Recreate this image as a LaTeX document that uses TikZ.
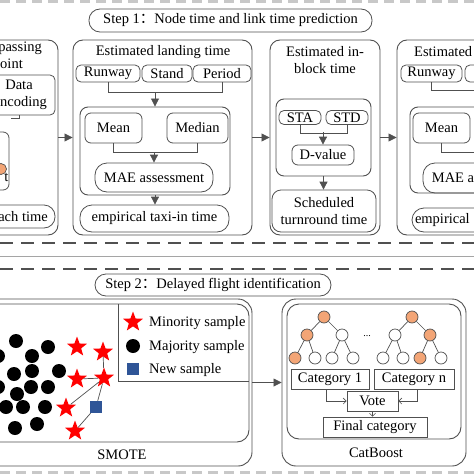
\documentclass[tikz,border=0pt]{standalone}
\usepackage{fontspec}
\setmainfont{Liberation Serif}
\newfontfamily\cjk{Noto Sans CJK SC}
\usepackage{xcolor}
\usepackage{tikz}
\usetikzlibrary{positioning}
\usetikzlibrary{shapes.geometric}
\usetikzlibrary{arrows.meta}
\definecolor{linegray}{RGB}{80,80,80}
\definecolor{dashgray}{RGB}{200,200,200}
\definecolor{rulegray}{RGB}{165,165,165}
\definecolor{nodeorange}{RGB}{243,165,118}
\definecolor{newblue}{RGB}{47,85,151}

\begin{document}
\begin{tikzpicture}[x=1pt,y=-1pt,font=\fontsize{14.5}{17.5}\selectfont]
			\tikzstyle{BoxStyle}   = [draw=linegray, line width=0.9pt, rounded corners=10pt, inner sep=0pt]
			\tikzstyle{ItemStyle}  = [draw=linegray, line width=0.8pt, rounded corners=5pt, inner sep=0pt, align=center]
			\tikzstyle{PillStyle}  = [draw=linegray, line width=0.8pt, rounded corners=11pt, inner sep=0pt, align=center]
			\tikzstyle{CatStyle}   = [draw=linegray, line width=0.8pt, inner sep=0pt, minimum height=20pt]
			\tikzstyle{LinkStyle}  = [draw=linegray, line width=0.7pt]
			\tikzstyle{FlowStyle}  = [draw=linegray, line width=0.8pt, -{Triangle[length=8pt,width=8pt]}]
			\tikzstyle{VoteStyle}  = [draw=linegray, line width=0.6pt, -{Straight Barb[length=3pt,width=6pt]}]
			\tikzstyle{TreeStyle}  = [circle, draw=linegray, line width=0.7pt, minimum size=12pt, inner sep=0pt, fill=white]
			\tikzstyle{HotStyle}   = [TreeStyle, fill=nodeorange]
			\tikzstyle{MinorStyle} = [star, star points=5, star point ratio=2.4, fill=red, minimum size=21pt, inner sep=0pt]
			\tikzstyle{MajorStyle} = [circle, fill=black, minimum size=14pt, inner sep=0pt]
			\tikzstyle{NewStyle}   = [rectangle, fill=newblue, minimum size=12pt, inner sep=0pt]
			\useasboundingbox (0,0) rectangle (474,474);
			\clip (0,0) rectangle (474,474);
			% separators
			\draw[dashgray, line width=3pt, dash pattern=on 10pt off 6pt] (0,1) -- (474,1);
			\draw[dashgray, line width=3pt, dash pattern=on 10pt off 6pt] (0,472) -- (474,472);
			\draw[linegray, line width=1.1pt, dash pattern=on 13pt off 8pt] (0,243) -- (474,243);
			\draw[rulegray, line width=0.8pt] (0,256) -- (474,256);
			\draw[linegray, line width=1.1pt, dash pattern=on 13pt off 8pt] (0,269) -- (474,269);

			% Step 1
			\node[PillStyle, minimum width=283pt, minimum height=23pt] (step1) at (230.5,20.5) {Step 1{\cjk ：}Node time and link time prediction};

			% passing point
			\node[BoxStyle, minimum width=108pt, minimum height=195pt] (pass) at (4,137.5) {};
			\node[anchor=east, inner sep=0pt] (passA) at (42,48) {passing};
			\node[anchor=east, inner sep=0pt] (passB) at (23,65) {point};
			\node[ItemStyle, minimum width=72pt, minimum height=40pt] (enc) at (19,95) {Data\\Encoding};
			\draw[LinkStyle] (enc.south) -- ++(0,3) -- ++(-8,0);
			\node[ItemStyle, rounded corners=6pt, minimum width=38pt, minimum height=58pt] (feat) at (-10,161) {};
			\node[HotStyle, minimum size=11pt] (featdot) at (1,169) {};
			\node[anchor=east, inner sep=0pt] (featT) at (8.5,177) {t};
			\node[PillStyle, minimum width=106pt, minimum height=23pt] (appr) at (2,216.5) {};
			\node[anchor=east, inner sep=0pt] (apprT) at (48,217) {ach time};

			% landing time
			\node[BoxStyle, minimum width=179pt, minimum height=195pt] (land) at (162.5,137.5) {};
			\node (landT) at (163,52) {Estimated landing time};
			\node[ItemStyle, minimum width=64pt, minimum height=17pt] (run) at (108,73.5) {Runway};
			\node[ItemStyle, minimum width=50pt, minimum height=17pt] (stand) at (167,73.5) {Stand};
			\node[ItemStyle, minimum width=58pt, minimum height=17pt] (period) at (222,73.5) {Period};
			\draw[LinkStyle] (run.south) -- ++(0,10) -| (period.south);
			\node[BoxStyle, rounded corners=8pt, minimum width=150pt, minimum height=88pt] (stat) at (155,151) {};
			\draw[FlowStyle] (stat.north |- 0,92) -- (stat.north);
			\node[ItemStyle, rounded corners=6pt, minimum width=57pt, minimum height=30pt] (mean) at (113.5,128) {Mean};
			\node[ItemStyle, rounded corners=6pt, minimum width=61pt, minimum height=30pt] (median) at (197.5,128) {Median};
			\node[PillStyle, rounded corners=12pt, minimum width=118pt, minimum height=29pt] (mae) at (154,177.5) {MAE assessment};
			\draw[LinkStyle] (mean.south) -- ++(0,9) -| (median.south);
			\draw[FlowStyle] (mae.north |- 0,152) -- (mae.north);
			\node[PillStyle, rounded corners=12pt, minimum width=149pt, minimum height=27pt] (taxi) at (154.5,218.5) {empirical taxi-in time};
			\draw[FlowStyle] (stat.south) -- (stat.south |- taxi.north);

			% in-block time
			\node[BoxStyle, minimum width=110pt, minimum height=195pt] (block) at (325,137.5) {};
			\node[align=center, inner sep=0pt] (blockT) at (325,60) {Estimated in-\\block time};
			\node[BoxStyle, rounded corners=8pt, minimum width=95pt, minimum height=77pt] (diff) at (323.5,137.5) {};
			\node[ItemStyle, minimum width=42pt, minimum height=14pt] (sta) at (300,117.5) {STA};
			\node[ItemStyle, minimum width=42pt, minimum height=14pt] (std) at (347,117.5) {STD};
			\node[ItemStyle, rounded corners=6pt, minimum width=62pt, minimum height=20pt] (dval) at (323,155) {D-value};
			\draw[LinkStyle] (sta.south) -- ++(0,8) -| (std.south);
			\draw[FlowStyle] (dval.north |- 0,132) -- (dval.north);
			\node[ItemStyle, rounded corners=9pt, minimum width=104pt, minimum height=42pt] (sched) at (324,211) {Scheduled\\turnround time};
			\draw[FlowStyle] (diff.south) -- (diff.south |- sched.north);

			% next node time
			\node[BoxStyle, minimum width=180pt, minimum height=195pt] (take) at (487,137.5) {};
			\node[anchor=west, inner sep=0pt] (takeT) at (414,52) {Estimated};
			\node[ItemStyle, minimum width=61pt, minimum height=17pt] (run2) at (431.5,73.5) {Runway};
			\node[ItemStyle, minimum width=50pt, minimum height=17pt] (stand2) at (490,73.5) {};
			\node[ItemStyle, minimum width=58pt, minimum height=17pt] (period2) at (546,73.5) {};
			\draw[LinkStyle] (run2.south) -- ++(0,8) -| (period2.south);
			\node[BoxStyle, rounded corners=8pt, minimum width=150pt, minimum height=86pt] (stat2) at (485,150) {};
			\node[ItemStyle, rounded corners=6pt, minimum width=57pt, minimum height=30pt] (mean2) at (441.5,128) {Mean};
			\node[ItemStyle, rounded corners=6pt, minimum width=61pt, minimum height=30pt] (median2) at (526,128) {};
			\draw[LinkStyle] (mean2.south) -- ++(0,9) -| (median2.south);
			\node[PillStyle, rounded corners=12pt, minimum width=118pt, minimum height=30pt] (mae2) at (482,178) {MAE assessment};
			\node[PillStyle, rounded corners=12pt, minimum width=149pt, minimum height=24pt, text width=143pt, align=left] (taxi2) at (486.5,220) {empirical};

			\draw[FlowStyle] (pass) -- (land);
			\draw[FlowStyle] (land) -- (block);
			\draw[FlowStyle] (block) -- (take);

			% Step 2
			\node[PillStyle, minimum width=236pt, minimum height=22pt] (step2) at (213,285) {Step 2{\cjk ：}Delayed flight identification};

			% SMOTE
			\node[BoxStyle, rounded corners=14pt, minimum width=272pt, minimum height=167pt] (smote) at (116,382.5) {};
			\node[BoxStyle, rounded corners=12pt, minimum width=264pt, minimum height=138pt] (smin) at (117,373) {};
			\node (smoteT) at (122,455) {SMOTE};
			\draw[LinkStyle] (118,304) |- (249,381);
			\node[MinorStyle] (keyA) at (133,322) {};
			\node[anchor=west, inner sep=0pt] (keyAT) at (149,323) {Minority sample};
			\node[MajorStyle] (keyB) at (133,346) {};
			\node[anchor=west, inner sep=0pt] (keyBT) at (149,347) {Majority sample};
			\node[NewStyle] (keyC) at (133,369) {};
			\node[anchor=west, inner sep=0pt] (keyCT) at (149,370) {New sample};
			\foreach \x/\y [count=\i] in {16/341,48/347,-2/356,32/356,14/374,32/371,59/371,-2/387,31/387,48/387,17/394,6/407,23/407,45/407,15/428,37/424}
				\node[MajorStyle] (maj\i) at (\x,\y) {};
			\node[MinorStyle] (s1) at (77,347) {};
			\node[MinorStyle] (s2) at (103,352) {};
			\node[MinorStyle] (s3) at (77,379) {};
			\node[MinorStyle] (s4) at (104,378) {};
			\node[MinorStyle] (s5) at (66,408) {};
			\node[MinorStyle] (s6) at (75,431) {};
			\node[NewStyle] (nw) at (96,407) {};
			\draw[LinkStyle] (s4) -- (s2) (s4) -- (s3) (s4) -- (s5) (s4) -- (nw) -- (s6);

			% CatBoost
			\node[BoxStyle, rounded corners=14pt, minimum width=184pt, minimum height=167pt] (cat) at (374,382.5) {};
			\node[BoxStyle, rounded corners=12pt, minimum width=174pt, minimum height=135pt] (cin) at (374,371.5) {};
			\node (catT) at (376,453) {CatBoost};
			\draw[FlowStyle] (smote) -- (cat);
			\node[HotStyle] (ta) at (324,317) {};
			\node[HotStyle] (tb) at (307,335) {};
			\node[TreeStyle] (tc) at (342,335) {};
			\node[HotStyle] (td) at (295,358) {};
			\node[TreeStyle] (te) at (315,358) {};
			\node[TreeStyle] (tf) at (332,358) {};
			\node[TreeStyle] (tg) at (353,358) {};
			\draw[LinkStyle] (ta) -- (tb) (ta) -- (tc) (tb) -- (td) (tb) -- (te) (tc) -- (tf) (tc) -- (tg);
			\node[HotStyle] (ua) at (412,317) {};
			\node[TreeStyle] (ub) at (395,335) {};
			\node[HotStyle] (uc) at (430,335) {};
			\node[TreeStyle] (ud) at (383,358) {};
			\node[TreeStyle] (ue) at (403,358) {};
			\node[HotStyle] (uf) at (420,358) {};
			\node[TreeStyle] (ug) at (441,358) {};
			\draw[LinkStyle] (ua) -- (ub) (ua) -- (uc) (ub) -- (ud) (ub) -- (ue) (uc) -- (uf) (uc) -- (ug);
			\node[font=\fontsize{10}{12}\selectfont] (dots) at (367,336) {...};
			\node[CatStyle, minimum width=78pt] (cat1) at (330,379) {Category 1};
			\node[CatStyle, minimum width=80pt] (catn) at (414,379) {Category n};
			\node[CatStyle, minimum width=51pt] (vote) at (372.5,401) {Vote};
			\node[CatStyle, minimum width=104pt] (final) at (375,427) {Final category};
			\draw[VoteStyle] ([xshift=-4pt]cat1.south) |- (vote.west);
			\draw[VoteStyle] ([xshift=3pt]catn.south) |- (vote.east);
			\draw[VoteStyle] (vote.south) -- (vote.south |- final.north);
		\end{tikzpicture}
\end{document}
